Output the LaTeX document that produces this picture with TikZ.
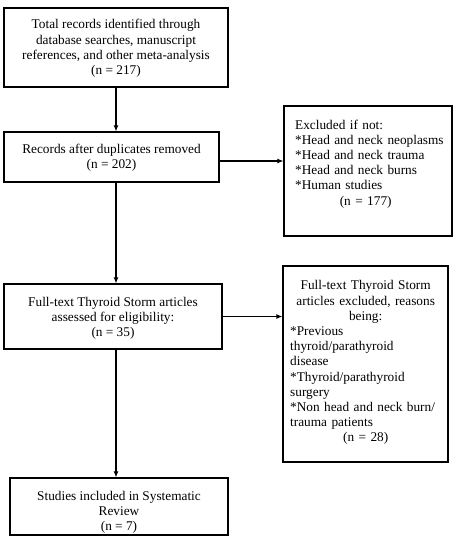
\documentclass[tikz,border=0pt]{standalone}
\usepackage{fontspec}
\setmainfont{Liberation Serif}
\usetikzlibrary{arrows.meta}
\begin{document}
\begin{tikzpicture}[x=1pt,y=-1pt,
  box/.style={draw, line width=1.2pt, inner sep=0pt},
  txt/.style={inner sep=0pt, font=\fontsize{13.3}{15.2}\selectfont},
  arr/.style={line width=1.1pt, -{Latex[length=6pt,width=5pt]}}]
\useasboundingbox (0,0) rectangle (457,550);
% boxes
\node[box, minimum width=224pt, minimum height=79pt] (b1) at (116,47.5) {};
\node[box, minimum width=215pt, minimum height=50pt] (b2) at (111.5,157) {};
\node[box, minimum width=218pt, minimum height=65pt] (b3) at (113,316.5) {};
\node[box, minimum width=218pt, minimum height=57pt] (b4) at (119,506.5) {};
\node[box, minimum width=168pt, minimum height=130pt] (r1) at (368,171) {};
\node[box, minimum width=165pt, minimum height=196pt] (r2) at (365.5,364) {};
% texts
\node[txt, align=center] (t1) at (116,48.5) {Total records identified through\\database searches, manuscript\\references, and other meta-analysis\\(n = 217)};
\node[txt, align=center] (t2) at (111.5,158) {Records after duplicates removed\\(n = 202)};
\node[txt, align=center] (t3) at (113,318) {Full-text Thyroid Storm articles\\assessed for eligibility:\\(n = 35)};
\node[txt, align=center] (t4) at (119,512.5) {Studies included in Systematic\\Review\\(n = 7)};
\node[txt, align=left, text width=150pt, anchor=north west] (t5) at (295,119.5) {Excluded if not:\\{}*Head and neck neoplasms\\{}*Head and neck trauma\\{}*Head and neck burns\\{}*Human studies\par\hspace*{-9pt}{\centering (n = 177)\par}};
\node[txt, align=left, text width=151pt, anchor=north west] (t6) at (290,280.5) {{\centering Full-text Thyroid Storm\\articles excluded, reasons\\being:\par}{}*Previous\\thyroid/parathyroid\\disease\\{}*Thyroid/parathyroid\\surgery\\{}*Non head and neck burn/\\trauma patients\par{\centering (n = 28)\par}};
% connectors
\draw[arr] (b1.south) -- (b1.south |- b2.north);
\draw[arr] (b2.south -| b1.south) -- (b1.south |- b3.north);
\draw[arr] (b3.south -| b1.south) -- (b1.south |- b4.north);
\draw[arr] (b2.east) ++(0,4) coordinate (e2) -- (e2 -| r1.west);
\draw[arr] (b3.east) -- (b3.east -| r2.west);
\end{tikzpicture}
\end{document}
